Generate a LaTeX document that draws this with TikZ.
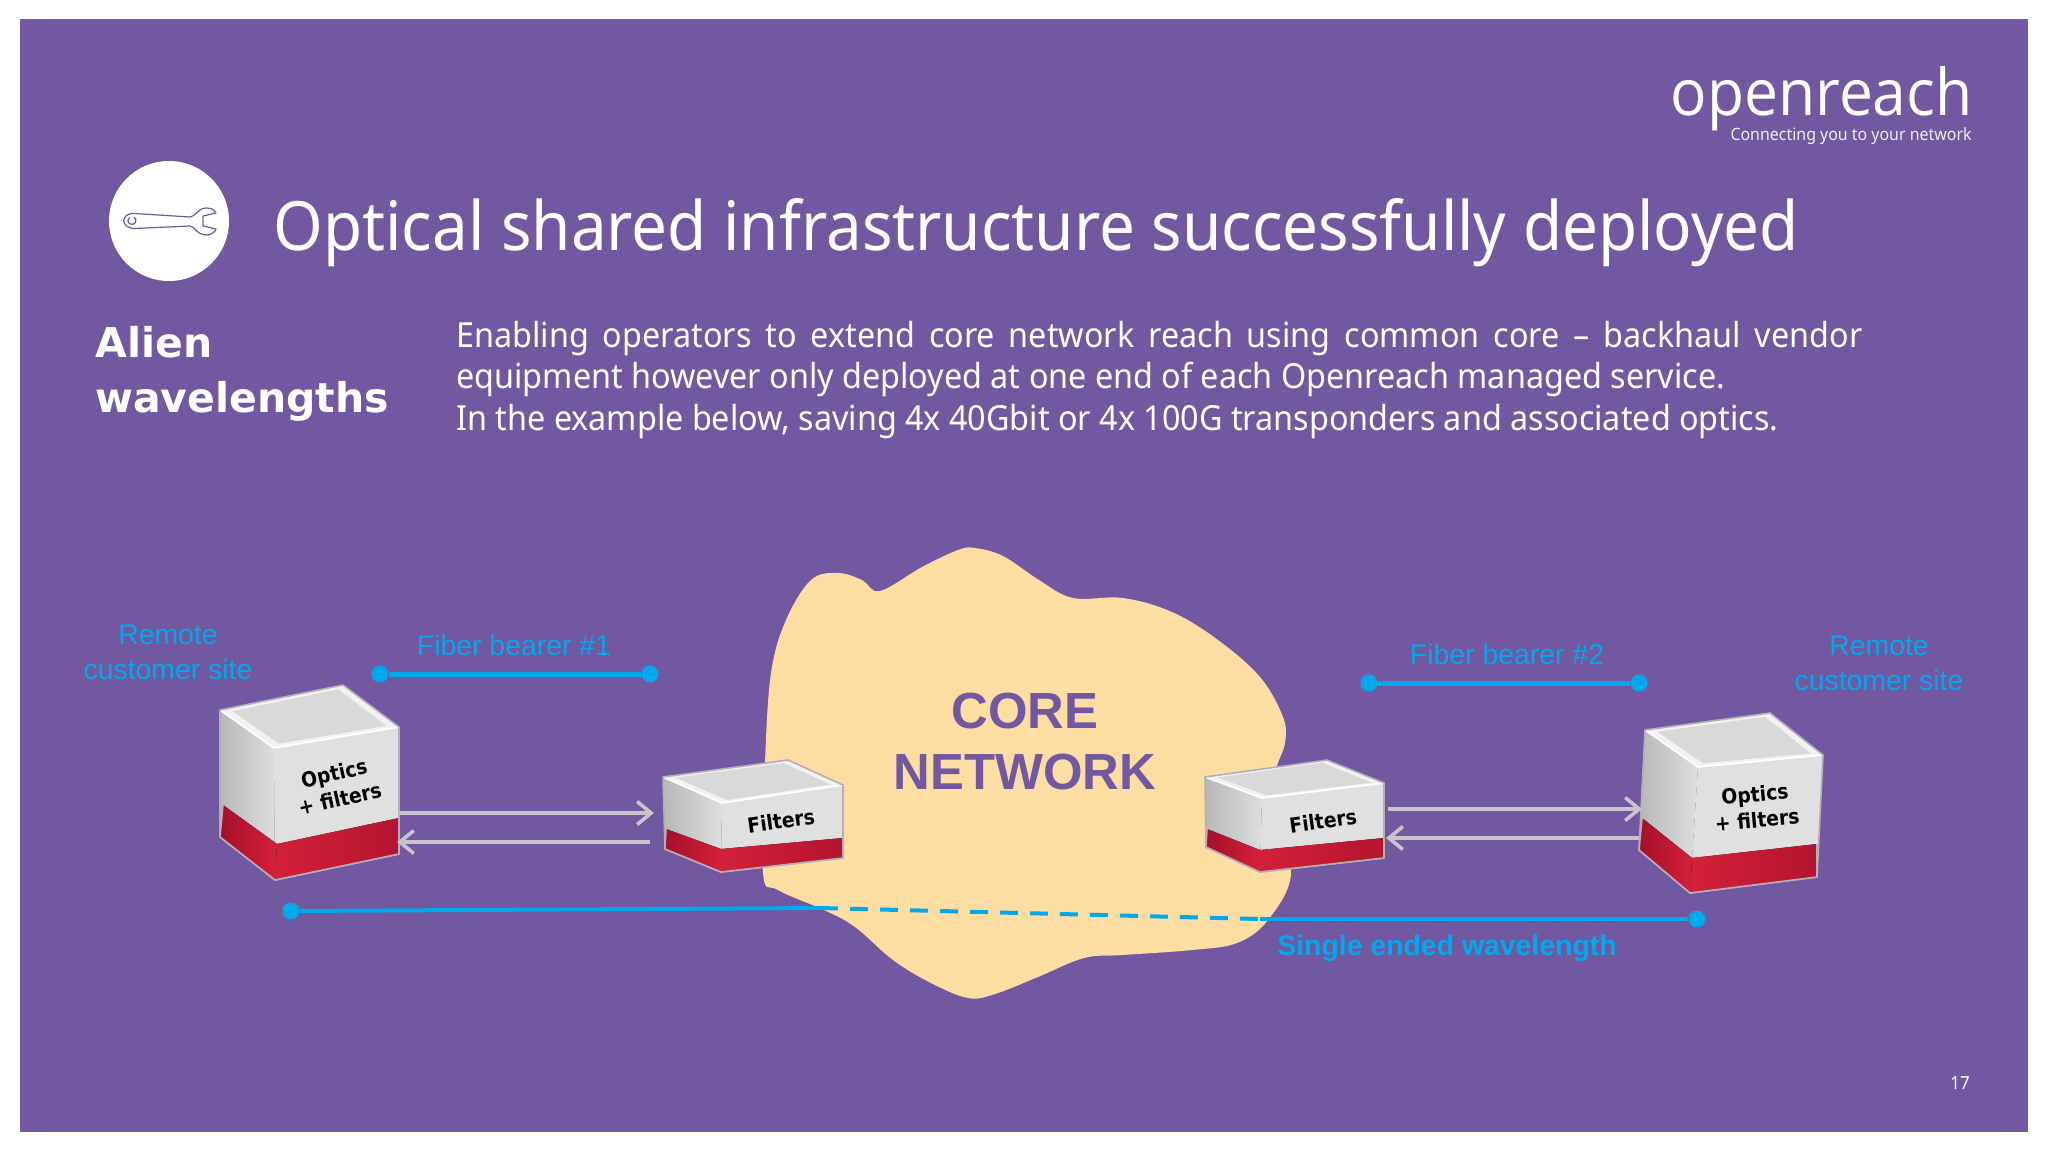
\documentclass[tikz,border=0pt]{standalone}
\usepackage{fontspec}
\usetikzlibrary{arrows.meta,calc}
\setmainfont{Noto Sans}
\newfontfamily\tahomaish[FakeStretch=0.937]{Noto Sans}
\newfontfamily\boldish{DejaVu Sans}
\newfontfamily\labelfont[BoldFeatures={FakeStretch=0.9}]{DejaVu Sans}
\newfontfamily\arialish{Liberation Sans}
\newfontfamily\logofont[FakeStretch=0.94]{Open Sans}
\definecolor{bgpurple}{HTML}{7158A0}
\definecolor{skyblue}{HTML}{00A9EC}
\definecolor{corepeach}{HTML}{FDDDA1}
\definecolor{linkgrey}{HTML}{C9C3CE}
\definecolor{edgegrey}{HTML}{B4AFB6}
\definecolor{bandred}{HTML}{D4203A}
\definecolor{banddark}{HTML}{A50F2B}
\tikzset{
  x=0.5pt,y=-0.5pt,
  dotend/.style={circle,fill=skyblue,draw=none,minimum size=8.5pt,inner sep=0pt},
  fiberline/.style={draw=skyblue,line width=2.5pt},
  waveline/.style={draw=skyblue,line width=2pt},
  linkarrow/.style={draw=linkgrey,line width=1.8pt,-{Straight Barb[length=7pt,width=11.5pt,line width=1.8pt]}},
  bluelabel/.style={text=skyblue,font=\arialish\fontsize{14.2}{17.5}\selectfont,align=center,inner sep=0pt},
  boxlabel/.style={font=\labelfont\bfseries\fontsize{10.4}{13}\selectfont,align=center,inner sep=0pt,text=black},
}
\newcommand\boxshape[7]{%
  \fill[black!14] #1 -- #2 -- #3 -- #7 -- #6 -- #5 -- cycle;
  \fill[left color=black!28,right color=black!13] #1 -- #4 -- #6 -- #5 -- cycle;
  \fill[black!12] #4 -- #3 -- #7 -- #6 -- cycle;
  \fill[black!5] #1 -- #2 -- #3 -- #4 -- cycle;
  \fill[black!15] ($#1!.07!#3$) -- ($#2!.07!#4$) -- ($#3!.07!#1$) -- ($#4!.07!#2$) -- cycle;
  \draw[white,line width=.8pt] #1 -- #4 -- #3;
  \draw[edgegrey,line width=.8pt,line join=round] #1 -- #2 -- #3 -- #7 -- #6 -- #5 -- cycle;
}
\newcommand\boxband[6]{%
  \fill[left color=banddark,right color=bandred] #1 -- #2 -- #5 -- #4 -- cycle;
  \fill[left color=bandred,right color=banddark!70!bandred] #2 -- #3 -- #6 -- #5 -- cycle;
  \draw[edgegrey,line width=.8pt,line join=round] #1 -- #4 -- #5 -- #6 -- #3;
}
\begin{document}
\begin{tikzpicture}
\useasboundingbox (0,0) rectangle (2048,1152);
\fill[white] (0,0) rectangle (2048,1152);
\fill[bgpurple] (20,19) rectangle (2028,1132);

% logo
\node[anchor=base east,inner sep=0pt,text=white,font=\logofont\fontsize{32.2}{33}\selectfont] (logo) at (1973,115) {openreach};
\node[anchor=base east,inner sep=0pt,text=white!88!bgpurple,font=\tahomaish\fontsize{8.5}{10}\selectfont] (tag) at (1972,140) {Connecting you to your network};

% icon
\fill[white] (169,221) circle [radius=60];
\draw[bgpurple,line width=.6pt,line join=round] (190,217) -- (135,213.5)
  .. controls (120,212.5) and (120,228.5) .. (135,228.5) -- (190,226)
  .. controls (195,226) and (196,235) .. (207,235) .. controls (211,235) and (215,232) .. (216,229)
  -- (203,226) -- (203,216) -- (216,213)
  .. controls (214,209) and (210,208) .. (206,208) .. controls (198,208) and (195,217) .. (190,217) -- cycle;
\draw[bgpurple,line width=.6pt] (134,217) arc [start angle=-60,end angle=230,radius=4];

% title and text
\node[anchor=base west,inner sep=0pt,text=white,font=\tahomaish\fontsize{34}{40}\selectfont] (title) at (273,250) {Optical shared infrastructure successfully deployed};
\node[anchor=north west,inner sep=0pt,text=white,align=left,font=\boldish\bfseries\fontsize{20.5}{27.5}\selectfont] (alien) at (95,326) {Alien\\wavelengths};
\node[anchor=north west,inner sep=0pt,text=white,text width=703pt,align=justify,font=\tahomaish\fontsize{17.26}{20.6}\selectfont] (body) at (456,321)
 {Enabling operators to extend core network reach using common core – backhaul vendor\linebreak equipment however only deployed at one end of each Openreach managed service.\newline In the example below, saving 4x 40Gbit or 4x 100G transponders and associated optics.};

% core cloud
\fill[corepeach] plot[smooth cycle,tension=.6] coordinates {
 (975,548) (1003,556) (1039,580) (1073,598) (1123,598) (1172,612) (1218,640) (1260,677) (1283,717) (1285,743) (1276,770) (1272,810) (1291,873)
 (1268,920) (1237,943) (1192,950) (1123,955) (1084,958) (1038,977) (995,994) (968,998) (931,983) (893,960) (855,927) (824,910) (778,890) (763,873)
 (765,763) (771,673) (786,620) (811,580) (838,573) (862,580) (880,591) (922,567) (958,550)};
\node[text=bgpurple,font=\arialish\bfseries\fontsize{25.4}{30.5}\selectfont,align=center,inner sep=0pt] (core) at (1025,741) {CORE\\NETWORK};

% labels
\node[bluelabel] (remoteL) at (168,652) {Remote\\customer site};
\node[bluelabel] (remoteR) at (1879,663) {Remote\\customer site};
\node[bluelabel] (fiberA) at (514,645) {Fiber bearer \#1};
\node[bluelabel] (fiberB) at (1507,654) {Fiber bearer \#2};
\node[bluelabel,font=\arialish\bfseries\fontsize{14.2}{17.5}\selectfont] (single) at (1447,948) {Single ended wavelength};
\node[text=white,font=\tahomaish\fontsize{9}{11}\selectfont,inner sep=0pt] (page) at (1960,1083) {17};

% fiber and wavelength lines
\node[dotend] (fa1) at (380,674) {};
\node[dotend] (fa2) at (650,674) {};
\node[dotend] (fb1) at (1369,683) {};
\node[dotend] (fb2) at (1639,683) {};
\draw[fiberline] (fa1) -- (fa2);
\draw[fiberline] (fb1) -- (fb2);
\node[dotend] (w1) at (291,911) {};
\node[dotend] (w2) at (1697,919) {};
\coordinate (wa) at (820,908);
\coordinate (wb) at (1260,919);
\draw[waveline] (w1) -- (wa);
\draw[waveline,dash pattern=on 9pt off 6pt] (wa) -- (wb);
\draw[waveline] (wb) -- (w2);

% boxes
\boxshape{(220,710)}{(343,685)}{(399,727)}{(274,748)}{(220,837)}{(275,880)}{(399,854)}
\boxband{(223,805)}{(277,844)}{(399,818)}{(220,837)}{(275,880)}{(399,854)}
\node[boxlabel,rotate=13] (opt1) at (337,786) {Optics\\+ filters};

\boxshape{(663,777)}{(788,760)}{(843,785)}{(722,803)}{(665,849)}{(721,872)}{(843,858)}
\boxband{(666,829)}{(721,849)}{(843,838)}{(665,849)}{(721,872)}{(843,858)}
\node[boxlabel,rotate=8] (fil1) at (781,821) {Filters};

\boxshape{(1205,777)}{(1327,760)}{(1384,783)}{(1262,798)}{(1206,847)}{(1260,872)}{(1384,858)}
\boxband{(1207,829)}{(1260,850)}{(1384,838)}{(1206,847)}{(1260,872)}{(1384,858)}
\node[boxlabel,rotate=8] (fil2) at (1323,821) {Filters};

\boxshape{(1645,730)}{(1770,713)}{(1823,755)}{(1698,767)}{(1639,850)}{(1690,893)}{(1817,877)}
\boxband{(1642,818)}{(1692,858)}{(1817,844)}{(1639,850)}{(1690,893)}{(1817,877)}
\node[boxlabel,rotate=5] (opt2) at (1756,807) {Optics\\+ filters};

% link arrows
\coordinate (a1) at (399,813); \coordinate (a2) at (654,813);
\coordinate (b1) at (650,842); \coordinate (b2) at (397,842);
\coordinate (c1) at (1388,809); \coordinate (c2) at (1642,809);
\coordinate (d1) at (1639,838); \coordinate (d2) at (1386,838);
\draw[linkarrow] (a1) -- (a2);
\draw[linkarrow] (b1) -- (b2);
\draw[linkarrow] (c1) -- (c2);
\draw[linkarrow] (d1) -- (d2);
\end{tikzpicture}
\end{document}
